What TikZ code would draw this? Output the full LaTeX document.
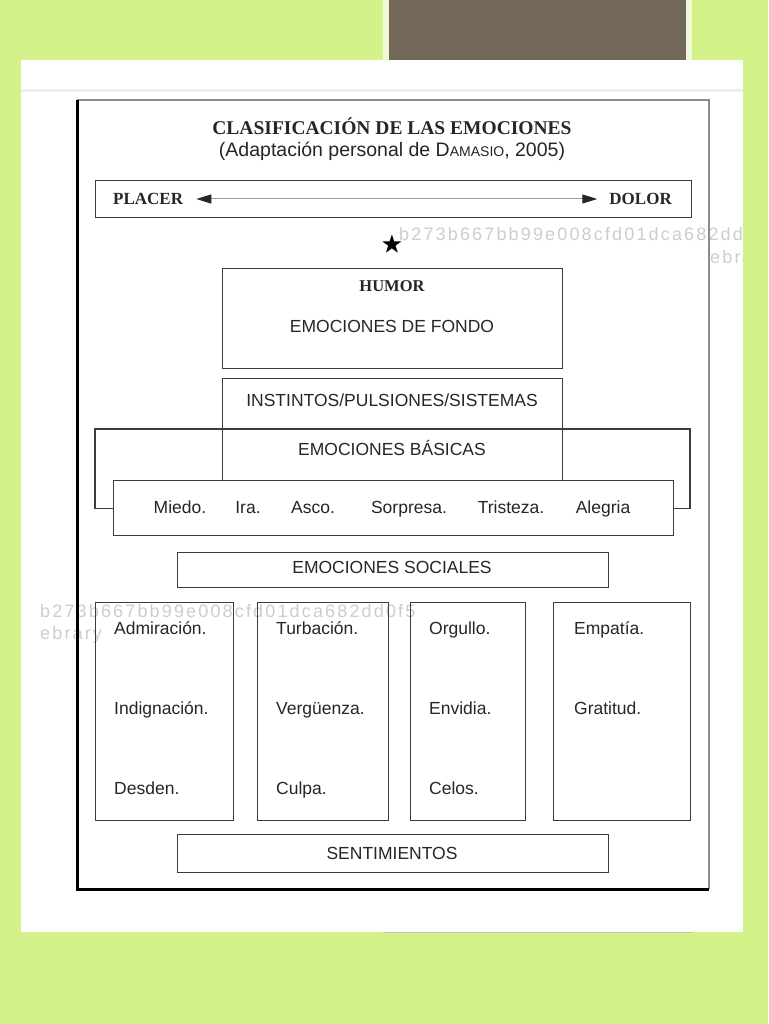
\documentclass[tikz,border=0pt]{standalone}
\usepackage{amssymb}
\usepackage{fontspec}
\setmainfont{Liberation Sans}
\newfontfamily\serifhd{Liberation Serif}
\newfontfamily\wmfont[LetterSpace=12]{Liberation Sans}
\usepackage{tikz}
\usetikzlibrary{arrows.meta,positioning}
\definecolor{slidegreen}{RGB}{212,242,138}
\definecolor{slidebrown}{RGB}{115,104,89}
\definecolor{boxgray}{RGB}{60,60,60}
\definecolor{wmgray}{RGB}{205,205,205}

\begin{document}
\begin{tikzpicture}[x=1pt, y=-1pt, every node/.style={align=center}]
\tikzset{
  box/.style={draw=boxgray, line width=1.3pt, fill=white, inner sep=0pt, anchor=north west},
  openbox/.style={box, fill=none},
  txt/.style={font=\fontsize{17.5}{20}\selectfont, text=black!85, inner sep=0pt, text height=12.5pt, text depth=0pt},
  itemtxt/.style={txt, anchor=west},
  serifhead/.style={font=\serifhd\bfseries\fontsize{17}{19}\selectfont, text=black!85, inner sep=0pt, text height=11.5pt, text depth=0pt},
  watermark/.style={font=\wmfont\fontsize{18}{20}\selectfont, text=wmgray, inner sep=0pt, anchor=west, text height=13pt, text depth=0pt},
  boxline/.style={draw=boxgray, line width=1.3pt}
}
% slide background
\fill[slidegreen] (0,0) rectangle (768,1024);
\useasboundingbox (0,0) rectangle (768,1024);
\fill[white!65!slidegreen] (383,0) rectangle (692,60);
\fill[slidebrown] (389,0) rectangle (686,60);
\fill[white] (21,60) rectangle (743,932);
\draw[black!7, line width=3] (21,91) -- (743,91);
\draw[black!25, line width=1] (383,932.5) -- (692,932.5);

% watermarks
\begin{scope}
\clip (21,60) rectangle (743,932);
\node[watermark] (wm1) at (399,234) {b273b667bb99e008cfd01dca682dd0f5};
\node[watermark] (wm1b) at (710,257) {ebrary};
\end{scope}
\node[watermark] (wm2) at (40,611) {b273b667bb99e008cfd01dca682dd0f5};
\node[watermark] (wm2b) at (40,633) {ebrary};

% frame
\draw[black!45, line width=2] (77,100) -- (709,100) -- (709,889);
\draw[black, line width=3] (709,889) -- (77,889) -- (77,100);

% title
\node[serifhead, font=\serifhd\bfseries\fontsize{19.5}{21}\selectfont, text height=13pt] (titulo) at (392,128) {CLASIFICACIÓN DE LAS EMOCIONES};
\node[txt, font=\fontsize{19.5}{21}\selectfont, text height=14pt, text depth=0pt] (subtitulo) at (392,150) {(Adaptación personal de D{\fontsize{14}{14}\selectfont AMASIO}, 2005)};

% placer -- dolor
\node[box, minimum width=596, minimum height=37] (escala) at (95,180) {};
\node[serifhead, anchor=west] (placer) at (113,199) {PLACER};
\node[serifhead, anchor=east] (dolor) at (672,199) {DOLOR};
\draw[black!40, line width=1, {Triangle[length=15,width=9,black!85]}-{Triangle[length=15,width=9,black!85]}] ([xshift=13]placer.east) -- ([xshift=-12]dolor.west);
\node[font=\fontsize{22}{22}\selectfont, inner sep=0pt] (estrella) at (392,245) {$\bigstar$};

% humor
\node[box, minimum width=340, minimum height=100] (humor) at (222,268) {};
\node[serifhead, font=\serifhd\bfseries\fontsize{16.5}{18}\selectfont] (humortxt) at (392,286) {HUMOR};
\node[txt] (fondo) at (392,326) {EMOCIONES DE FONDO};

% instintos and basicas
\node[openbox, minimum width=340, minimum height=102] (instintos) at (222,378) {};
\node[txt] (instintostxt) at (392,400) {INSTINTOS/PULSIONES/SISTEMAS};
\node[box, minimum width=560, minimum height=55] (miedo) at (113,480) {};
\coordinate (bas-nw) at (95,429);
\coordinate (bas-ne) at (690,429);
\draw[boxline] (miedo.west) -| (bas-nw) -- (bas-ne) |- (miedo.east);
\node[txt] (basicas) at (392,449) {EMOCIONES BÁSICAS};
\foreach \lbl/\xpos [count=\i] in {Miedo./180, Ira./248, Asco./313, Sorpresa./409, Tristeza./511, Alegria/603}
  \node[txt] (basica\i) at (\xpos,507) {\lbl};

% sociales
\node[box, minimum width=431, minimum height=35] (sociales) at (177,552) {};
\node[txt] (socialestxt) at (392,567) {EMOCIONES SOCIALES};
\node[openbox, minimum width=138, minimum height=218] (col1) at (95,602) {};
\node[openbox, minimum width=131, minimum height=218] (col2) at (257,602) {};
\node[openbox, minimum width=115, minimum height=218] (col3) at (410,602) {};
\node[openbox, minimum width=137, minimum height=218] (col4) at (553,602) {};
\foreach \lbl/\xpos/\ypos [count=\i] in {Admiración./114/628, Indignación./114/708, Desden./114/788,
    Turbación./276/628, Vergüenza./276/708, Culpa./276/788,
    Orgullo./429/628, Envidia./429/708, Celos./429/788,
    Empatía./574/628, Gratitud./574/708}
  \node[itemtxt] (social\i) at (\xpos,\ypos) {\lbl};

% sentimientos
\node[box, minimum width=431, minimum height=38] (sentimientos) at (177,834) {};
\node[txt] (sentimientostxt) at (392,853) {SENTIMIENTOS};
\end{tikzpicture}
\end{document}
